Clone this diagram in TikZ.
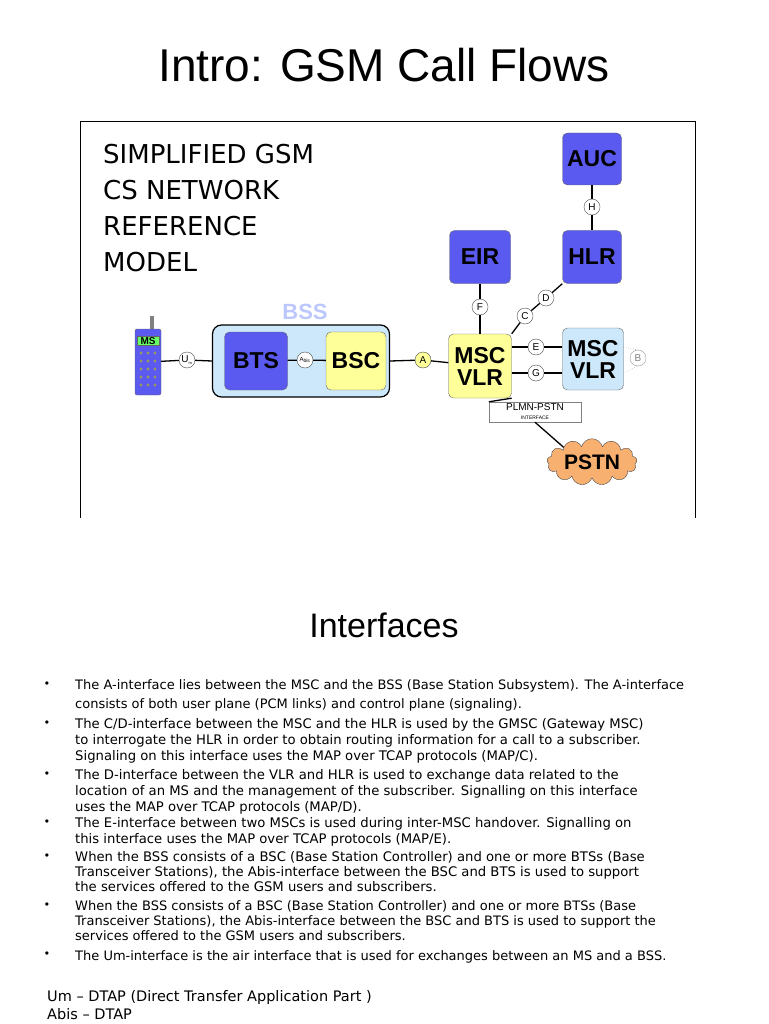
\documentclass[tikz,border=0pt]{standalone}
\usepackage{fontspec}
\setmainfont{Liberation Sans}
\newfontfamily\djvfont{DejaVu Sans}
\usetikzlibrary{shapes.symbols}
\definecolor{blu}{HTML}{5A5AF0}
\definecolor{lblu}{HTML}{CDE8FA}
\definecolor{yel}{HTML}{FFFF99}
\definecolor{ora}{HTML}{F8B070}
\begin{document}
\begin{tikzpicture}[x=1pt,y=-1pt,
 box/.style={draw=black!60,rounded corners=5pt,font=\bfseries\fontsize{23}{22}\selectfont,align=center,inner sep=0pt},
 lbl/.style={circle,draw=black!70,fill=white,inner sep=0pt,minimum size=16pt,font=\fontsize{10}{10}\selectfont},
 ln/.style={line width=1.3pt},
 bt/.style={anchor=base west,inner sep=0pt,font=\djvfont\fontsize{13.2}{12}\selectfont},
 bt2/.style={anchor=base west,inner sep=0pt,font=\djvfont\fontsize{13}{12}\selectfont}]
\useasboundingbox (0,0) rectangle (768,1024);
\node[font=\fontsize{46}{46}\selectfont] (title) at (384,65) {Intro: GSM Call Flows};
\draw[line width=1pt] (80,518) -- (80,122) -- (695,122) -- (695,518);
\node[anchor=north west,align=left,font=\djvfont\fontsize{26}{36}\selectfont,inner sep=0pt] (mdl) at (103,144) {SIMPLIFIED GSM\\CS NETWORK\\REFERENCE\\MODEL};
% nodes
\node[box,fill=blu,minimum width=59pt,minimum height=52pt] (auc) at (592,159) {AUC};
\node[box,fill=blu,minimum width=59pt,minimum height=53pt] (hlr) at (592,257) {HLR};
\node[box,fill=blu,minimum width=61pt,minimum height=53pt] (eir) at (480,257) {EIR};
\node[font=\bfseries\fontsize{22}{22}\selectfont,text=lblu!70!blue!60] (bsslbl) at (305,312) {BSS};
\node[draw,line width=1.2pt,rounded corners=9pt,fill=lblu,minimum width=177pt,minimum height=72pt] (bss) at (301,361) {};
\node[box,fill=blu,minimum width=63pt,minimum height=58pt] (bts) at (256,361) {BTS};
\node[box,fill=yel,minimum width=60pt,minimum height=58pt] (bsc) at (356,361) {BSC};
\node[box,fill=yel,minimum width=63pt,minimum height=64pt] (msc) at (480,366) {MSC\\VLR};
\node[box,fill=lblu,minimum width=61pt,minimum height=62pt] (msc2) at (593,359) {MSC\\VLR};
% phone
\fill[black!50] (150,316) rectangle (154,330);
\node[draw=black!60,fill=blu,rounded corners=2pt,minimum width=26pt,minimum height=66pt] (ms) at (148,362) {};
\node[fill=green!60,draw=black!60,font=\bfseries\fontsize{10}{10}\selectfont,inner sep=1pt,minimum width=22pt] (mslbl) at (148,341) {MS};
\foreach \i in {0,...,4}{\foreach \j in {-1,0,1}{\fill[yel!60!black] (148+7*\j,353+8*\i) circle (1.6pt);}}
\node[lbl] (um) at (187,360) {U\textsubscript{\fontsize{4}{4}\selectfont m}};
\node[lbl,font=\fontsize{6}{6}\selectfont] (abis) at (305,360) {A\textsubscript{bis}};
\node[lbl,fill=yel] (a) at (423,360) {A};
\node[lbl] (e) at (536,347) {E};
\node[lbl] (g) at (536,373) {G};
\node[lbl,draw=black!40,text=black!50] (b) at (638,358) {B};
\node[lbl] (f) at (480,307) {F};
\node[lbl] (c) at (525,316) {C};
\node[lbl] (d) at (546,298) {D};
\node[lbl] (h) at (592,207) {H};
\node[draw=black!50,fill=white,align=center,inner sep=2pt,minimum width=92pt,font=\fontsize{10}{10}\selectfont] (plmn) at (535,412) {PLMN-PSTN\\[-1pt]{\fontsize{5}{5}\selectfont INTERFACE}};
\node[cloud,cloud puffs=13,aspect=2.4,draw=black!70,fill=ora,minimum width=90pt,minimum height=40pt,font=\bfseries\fontsize{21}{21}\selectfont,inner sep=0pt] (pstn) at (592,462) {PSTN};
% connectors
\draw[ln] (ms) -- (um) -- (bss.west);
\draw[ln] (bts) -- (abis) -- (bsc);
\draw[ln] (bss.east) -- (a) -- (msc);
\draw[ln] (msc.east|-e) -- (e) -- (msc2.west|-e);
\draw[ln] (msc.east|-g) -- (g) -- (msc2.west|-g);
\draw[ln] (eir) -- (f) -- (msc);
\draw[ln] (msc.north east) -- (c) -- (d) -- (hlr.south west);
\draw[ln] (auc) -- (h) -- (hlr);
\draw[ln] (msc.south east) -- (plmn.north west);
\draw[ln] (plmn.south) -- (pstn.north west);
\draw[dotted,black!60] (msc2.east|-e) -- (b.north);
\draw[dotted,black!60] (msc2.east|-g) -- (b.south);
% text
\node[font=\fontsize{34}{34}\selectfont] (intf) at (384,625) {Interfaces};
\foreach \y in {685,724,775,823,857,906,955}{\node[font=\fontsize{12}{12}\selectfont] at (47,\y) {•};}
\node[bt2] at (75,689) {The A-interface lies between the MSC and the BSS (Base Station Subsystem). The A-interface};
\node[bt2] at (75,708) {consists of both user plane (PCM links) and control plane (signaling).};
\node[bt] at (75,728) {The C/D-interface between the MSC and the HLR is used by the GMSC (Gateway MSC)};
\node[bt] at (75,744) {to interrogate the HLR in order to obtain routing information for a call to a subscriber.};
\node[bt] at (75,760) {Signaling on this interface uses the MAP over TCAP protocols (MAP/C).};
\node[bt] at (75,779) {The D-interface between the VLR and HLR is used to exchange data related to the};
\node[bt] at (75,795) {location of an MS and the management of the subscriber. Signalling on this interface};
\node[bt] at (75,811) {uses the MAP over TCAP protocols (MAP/D).};
\node[bt] at (75,827) {The E-interface between two MSCs is used during inter-MSC handover. Signalling on};
\node[bt] at (75,843) {this interface uses the MAP over TCAP protocols (MAP/E).};
\node[bt] at (75,861) {When the BSS consists of a BSC (Base Station Controller) and one or more BTSs (Base};
\node[bt] at (75,876) {Transceiver Stations), the Abis-interface between the BSC and BTS is used to support};
\node[bt] at (75,891) {the services offered to the GSM users and subscribers.};
\node[bt2] at (75,910) {When the BSS consists of a BSC (Base Station Controller) and one or more BTSs (Base};
\node[bt2] at (75,925) {Transceiver Stations), the Abis-interface between the BSC and BTS is used to support the};
\node[bt2] at (75,940) {services offered to the GSM users and subscribers.};
\node[bt2] at (75,960) {The Um-interface is the air interface that is used for exchanges between an MS and a BSS.};
\node[bt,font=\djvfont\fontsize{14.5}{12}\selectfont] at (47,1001) {Um – DTAP (Direct Transfer Application Part )};
\node[bt,font=\djvfont\fontsize{14.5}{12}\selectfont] at (47,1019) {Abis – DTAP};
\end{tikzpicture}
\end{document}
